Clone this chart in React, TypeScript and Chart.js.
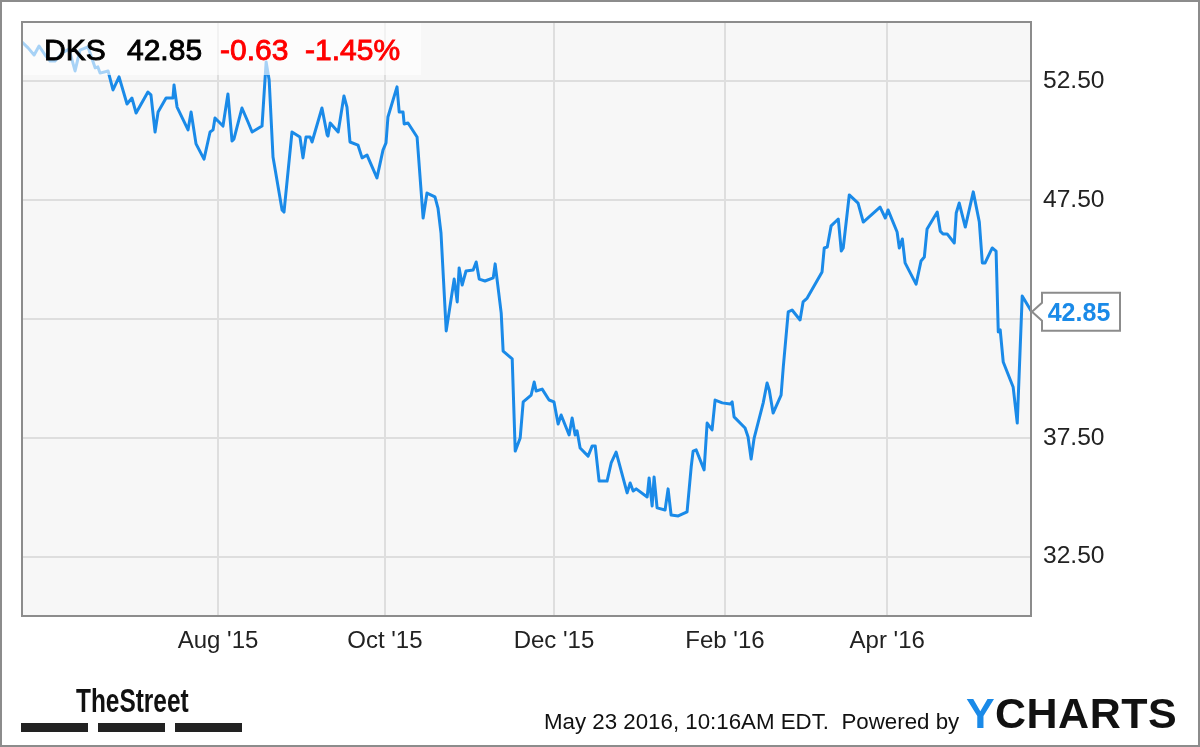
import React, { useEffect, useRef } from "react";
import { Chart, registerables } from "chart.js";

Chart.register(...registerables);

// Calendar days since 22 May 2015 for each turning point of the line
const days = [
  0, 2.2, 4.4, 6.2, 8.4, 10.2, 12, 14.6, 17.1, 19.3, 21.1, 24, 26.6, 27.6, 28.4, 31.3, 33.1, 35.3, 38.2, 40,
  41.5, 45.8, 46.9, 48.4, 49.5, 52.4, 54.9, 55.3, 56.4, 60.4, 61.5, 63.3, 66.2, 68.4, 69.5, 70.2, 73.1, 74.9, 76.4, 77.1,
  80, 82.2, 83.7, 87.3, 88.8, 89.9, 91.3, 94.6, 95.3, 98.2, 101.1, 102.2, 103.3, 104.8, 105.5, 109.1, 111, 111.3, 112.1, 115,
  117.1, 118.2, 119.3, 122.2, 123.7, 125.5, 129.1, 131.3, 132.4, 133.1, 136.4, 137.2, 138.6, 139, 140.4, 143.7, 145.9, 147.3, 150.2, 151.3,
  152.4, 154.3, 157.2, 158.3, 159, 160.1, 161.5, 164.1, 165.2, 166.3, 168.4, 171.4, 172.1, 174.3, 175, 178.3, 179.4, 181.2, 182.3, 185.2,
  186.3, 187, 189.2, 191.7, 193.5, 195, 196.1, 199, 200.1, 201.2, 201.9, 202.3, 203, 205.9, 207.4, 208.5, 209.9, 212.8, 214.3, 216.1,
  220.1, 221.2, 222.3, 223.4, 227.4, 228.1, 229.2, 229.9, 231, 233.9, 235, 236.1, 238.7, 241.9, 243.4, 244.1, 245.2, 248.1, 249.2, 251,
  252.1, 254.7, 257.6, 258.3, 259, 263, 264.1, 265.2, 266.3, 269.6, 271, 271.8, 273.2, 276.1, 276.9, 278.7, 280.1, 283, 284.1, 285.6,
  291, 291.8, 292.9, 294.3, 296.9, 298, 298.7, 300.9, 304.1, 306, 312.1, 314, 315, 318.3, 319.1, 320.2, 321.2, 325.2, 327, 328.2,
  329.2, 332.9, 334, 335, 336.5, 339.1, 339.8, 340.9, 343.1, 346, 348.2, 349.3, 350.3, 352.9, 354.3, 355.1, 355.8, 356.9, 360.5, 362,
  363.8, 367,
];

const prices = [
  54.16, 53.91, 53.61, 53.99, 53.61, 53.36, 53.36, 53.7, 53.86, 52.94, 53.82, 53.95, 53.07, 53.11, 52.85, 52.94, 52.14, 52.69, 51.55, 51.8,
  51.17, 52.05, 51.93, 50.37, 51.21, 51.8, 51.8, 52.35, 51.42, 50.46, 51.21, 49.87, 49.23, 50.37, 50.46, 50.96, 50.62, 51.97, 49.99, 50.08,
  51.38, 50.79, 50.37, 50.62, 53.32, 52.56, 49.32, 47.09, 47.0, 50.37, 50.16, 49.28, 50.16, 50.16, 49.95, 51.38, 50.25, 50.2, 50.75, 50.37,
  51.89, 51.42, 49.95, 49.82, 49.28, 49.4, 48.44, 49.61, 49.91, 51.0, 52.27, 51.21, 51.21, 50.71, 50.75, 50.16, 46.75, 47.8, 47.64, 47.17,
  46.12, 42.0, 44.18, 43.22, 44.65, 43.93, 44.52, 44.56, 44.9, 44.18, 44.1, 44.23, 44.82, 42.75, 41.15, 40.82, 36.94, 37.49, 39.01, 39.3,
  39.85, 39.47, 39.55, 39.09, 39.01, 38.08, 38.46, 37.62, 38.33, 37.62, 37.79, 37.53, 37.07, 36.73, 37.16, 37.16, 35.68, 35.68, 36.44, 36.9,
  35.18, 35.6, 35.26, 35.35, 35.01, 35.81, 34.63, 35.85, 34.55, 34.46, 35.35, 34.25, 34.21, 34.38, 36.27, 36.94, 36.99, 36.15, 38.12, 37.83,
  39.09, 38.97, 38.92, 39.01, 38.38, 37.91, 37.53, 36.61, 37.49, 38.97, 39.81, 39.51, 38.54, 39.3, 40.48, 42.8, 42.88, 42.46, 43.22, 43.38,
  44.48, 45.49, 45.53, 46.42, 46.71, 45.36, 45.49, 47.72, 47.38, 46.58, 47.21, 46.75, 47.09, 46.16, 45.49, 45.87, 44.86, 43.97, 44.94, 45.11,
  46.29, 47.0, 46.2, 46.08, 46.08, 45.7, 46.96, 47.38, 46.37, 47.85, 46.58, 44.86, 44.86, 45.49, 45.36, 41.95, 42.04, 40.69, 39.64, 38.12,
  43.47, 42.85,
];

const monthTickDays = [71.3, 132, 193.5, 255.7, 314.7];
const monthTickLabels = ["Aug '15", "Oct '15", "Dec '15", "Feb '16", "Apr '16"];
const priceTicks = [32.5, 37.5, 42.5, 47.5, 52.5];

const ticker = "DKS";
const lastPrice = "42.85";
const change = "-0.63";
const changePct = "-1.45%";
const stampText = "May 23 2016, 10:16AM EDT.  Powered by";

const BLUE = "#1a8ae8";
const SANS = '"Liberation Sans", Arial, sans-serif';

const decorations = {
  id: "decorations",
  beforeDraw(chart: any) {
    const { ctx, chartArea: a, width, height } = chart;
    ctx.save();
    ctx.fillStyle = "#ffffff";
    ctx.fillRect(0, 0, width, height);
    ctx.fillStyle = "#f7f7f7";
    ctx.fillRect(a.left, a.top, a.right - a.left, a.bottom - a.top);
    ctx.restore();
  },
  afterDraw(chart: any) {
    const { ctx, chartArea: a, width, height } = chart;
    ctx.save();

    // header veil
    ctx.fillStyle = "rgba(255,255,255,0.62)";
    ctx.fillRect(a.left, a.top, 399, 53);

    // plot frame + outer frame
    ctx.strokeStyle = "#8c8c8c";
    ctx.lineWidth = 2;
    ctx.strokeRect(a.left, a.top, a.right - a.left, a.bottom - a.top);
    ctx.strokeRect(1, 1, width - 2, height - 2);

    // header text
    ctx.textBaseline = "alphabetic";
    ctx.textAlign = "left";
    ctx.font = `30px ${SANS}`;
    ctx.lineWidth = 0.9;
    const head = (t: string, x: number, c: string) => {
      ctx.fillStyle = c;
      ctx.strokeStyle = c;
      ctx.fillText(t, x, 60);
      ctx.strokeText(t, x, 60);
    };
    head(ticker, 44, "#000000");
    head(lastPrice, 127, "#000000");
    head(change, 220, "#ff0000");
    head(changePct, 305, "#ff0000");

    // last-price callout, attached to the last point
    const yScale = chart.scales.y;
    const py = yScale.getPixelForValue(prices[prices.length - 1]);
    const top = py - 18;
    const bottom = py + 20;
    ctx.beginPath();
    ctx.moveTo(1042, top);
    ctx.lineTo(1120, top);
    ctx.lineTo(1120, bottom);
    ctx.lineTo(1042, bottom);
    ctx.lineTo(1042, py + 10);
    ctx.lineTo(1032, py + 1);
    ctx.lineTo(1042, py - 8);
    ctx.closePath();
    ctx.fillStyle = "#ffffff";
    ctx.fill();
    ctx.strokeStyle = "#8c8c8c";
    ctx.lineWidth = 2;
    ctx.stroke();
    ctx.fillStyle = BLUE;
    ctx.font = `bold 25px ${SANS}`;
    ctx.textAlign = "center";
    ctx.fillText(lastPrice, 1079, py + 10);

    // TheStreet logo
    ctx.textAlign = "left";
    ctx.fillStyle = "#111111";
    ctx.save();
    ctx.translate(76, 712);
    ctx.scale(0.74, 1);
    ctx.font = `bold 33px ${SANS}`;
    ctx.fillText("TheStreet", 0, 0);
    ctx.restore();
    ctx.fillStyle = "#222222";
    ctx.fillRect(21, 723, 67, 9);
    ctx.fillRect(98, 723, 67, 9);
    ctx.fillRect(175, 723, 67, 9);

    // stamp
    ctx.fillStyle = "#111111";
    ctx.font = `22.3px ${SANS}`;
    ctx.fillText(stampText, 544, 729);

    // YCHARTS logo
    ctx.font = `bold 43px ${SANS}`;
    ctx.fillStyle = BLUE;
    ctx.fillText("Y", 966, 728);
    ctx.fillStyle = "#111111";
    (ctx as any).letterSpacing = "0.5px";
    ctx.fillText("CHARTS", 995, 728);
    (ctx as any).letterSpacing = "0px";

    ctx.restore();
  },
};

export default function App() {
  const ref = useRef<HTMLCanvasElement | null>(null);

  useEffect(() => {
    if (!ref.current) return;
    const chart = new Chart(ref.current, {
      type: "line",
      data: {
        datasets: [
          {
            data: days.map((d, i) => ({ x: d, y: prices[i] })),
            borderColor: BLUE,
            borderWidth: 3,
            borderJoinStyle: "round",
            borderCapStyle: "round",
            pointRadius: 0,
            tension: 0,
            fill: false,
          },
        ],
      },
      options: {
        animation: false,
        responsive: false,
        layout: { padding: { left: 22, top: 22, right: 0, bottom: 0 } },
        plugins: { legend: { display: false }, tooltip: { enabled: false }, title: { display: false } },
        scales: {
          x: {
            type: "linear",
            min: 0,
            max: 367,
            afterFit: (s: any) => {
              s.height = 131;
              s.paddingLeft = 0;
              s.paddingRight = 0;
            },
            afterBuildTicks: (s: any) => {
              s.ticks = monthTickDays.map((v) => ({ value: v }));
            },
            grid: { color: "#dedede", lineWidth: 2, drawTicks: false },
            border: { display: false },
            ticks: {
              autoSkip: false,
              maxRotation: 0,
              padding: 11,
              color: "#222222",
              font: { family: SANS, size: 24 },
              callback: (v: any) => monthTickLabels[monthTickDays.indexOf(Number(v))] ?? "",
            },
          },
          y: {
            position: "right",
            min: 30,
            max: 55,
            afterFit: (s: any) => {
              s.width = 169;
              s.paddingTop = 0;
              s.paddingBottom = 0;
            },
            afterBuildTicks: (s: any) => {
              s.ticks = priceTicks.map((v) => ({ value: v }));
            },
            grid: { color: "#dedede", lineWidth: 2, drawTicks: false },
            border: { display: false },
            ticks: {
              autoSkip: false,
              padding: 12,
              color: "#222222",
              font: { family: SANS, size: 24.6 },
              callback: (v: any) => Number(v).toFixed(2),
            },
          },
        },
      },
      plugins: [decorations],
    } as any);
    return () => chart.destroy();
  }, []);

  return (
    <div style={{ position: "absolute", left: 0, top: 0, width: 1200, height: 747 }}>
      <canvas ref={ref} width={1200} height={747} style={{ display: "block", width: 1200, height: 747 }} />
    </div>
  );
}
